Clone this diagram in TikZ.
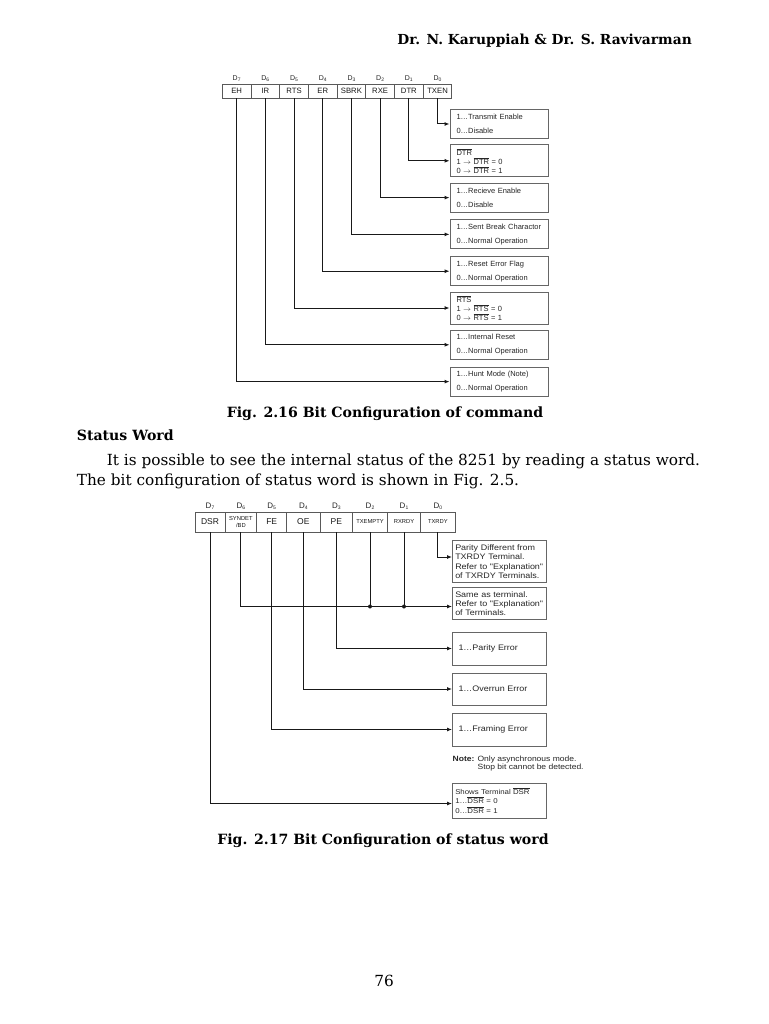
\documentclass[tikz,border=0pt]{standalone}
\usepackage{fontspec}
\setmainfont{DejaVu Serif}
\newfontfamily\dfont{Liberation Sans}
\newfontfamily\wfont[FakeStretch=1.12]{Liberation Sans}
\usetikzlibrary{arrows.meta}
\newcommand{\ovl}[1]{$\overline{\hbox{#1}}$}
\newcommand{\dsub}[1]{D\raisebox{-1.4pt}{\fontsize{5}{5}\selectfont #1}}
\begin{document}
\begin{tikzpicture}[x=1pt,y=-1pt]
\tikzstyle{pagetext} = [inner sep=0,text=black];
\tikzstyle{headtext} = [pagetext,font=\bfseries\fontsize{13.8}{16}\selectfont];
\tikzstyle{figcap} = [pagetext,font=\bfseries\fontsize{14.1}{16}\selectfont];
\tikzstyle{bodytext} = [pagetext,font=\fontsize{15.3}{18}\selectfont];
\tikzstyle{bit} = [inner sep=0,anchor=base,text=black!85,font=\dfont\fontsize{7}{7}\selectfont];
\tikzstyle{sbit} = [bit,font=\dfont\fontsize{8}{8}\selectfont];
\tikzstyle{cell} = [draw=black!65,line width=0.9,inner sep=0,text=black!90,font=\dfont\fontsize{7.7}{8}\selectfont];
\tikzstyle{scell} = [cell,font=\dfont\fontsize{8.5}{9}\selectfont];
\tikzstyle{smallcell} = [cell,font=\dfont\fontsize{5.8}{6.3}\selectfont];
\tikzstyle{box} = [draw=black!60,line width=0.9,minimum width=98,minimum height=29,text width=85,inner xsep=6.5,align=left,text=black!85,font=\dfont\fontsize{7.5}{14}\selectfont];
\tikzstyle{box3} = [box,font=\dfont\fontsize{7.5}{9}\selectfont];
\tikzstyle{sbox} = [box,minimum width=93.5,text width=88,inner xsep=2.75,font=\wfont\fontsize{8}{9.3}\selectfont];
\tikzstyle{sbox1} = [sbox,inner xsep=6,text width=81.5,font=\wfont\fontsize{8}{9}\selectfont];
\tikzstyle{wire} = [line width=1,black!90];
\tikzstyle{arr} = [wire,-{Latex[length=5,width=4]}];
\useasboundingbox (0,0) rectangle (768,1024);
\fill [white] (0,0) rectangle (768,1024);

% page text
\node [headtext,anchor=base east] (hdr) at (692,45) {Dr. N. Karuppiah \& Dr. S. Ravivarman};
\node [figcap,anchor=base] (cap1) at (385,417) {Fig. 2.16 Bit Configuration of command};
\node [figcap,anchor=base west] (sec) at (76.7,440.7) {Status Word};
\node [bodytext,anchor=base west] (par1) at (106.7,465) {It is possible to see the internal status of the 8251 by reading a status word.};
\node [bodytext,anchor=base west] (par2) at (76.7,485) {The bit configuration of status word is shown in Fig. 2.5.};
\node [figcap,anchor=base] (cap2) at (383,844) {Fig. 2.17 Bit Configuration of status word};
\node [bodytext,anchor=base] (pgno) at (384,986) {76};

% command word
\node [cell,minimum width=28.7,minimum height=14] (cmd7) at (236.65,91) {EH};
\node [cell,minimum width=28.7,minimum height=14] (cmd6) at (265.35,91) {IR};
\node [cell,minimum width=28.7,minimum height=14] (cmd5) at (294.05,91) {RTS};
\node [cell,minimum width=28.7,minimum height=14] (cmd4) at (322.75,91) {ER};
\node [cell,minimum width=28.7,minimum height=14] (cmd3) at (351.45,91) {SBRK};
\node [cell,minimum width=28.7,minimum height=14] (cmd2) at (380.15,91) {RXE};
\node [cell,minimum width=28.7,minimum height=14] (cmd1) at (408.85,91) {DTR};
\node [cell,minimum width=28.7,minimum height=14] (cmd0) at (437.55,91) {TXEN};
\node [bit] (cd7) at (236.65,80.5) {\dsub{7}};
\node [bit] (cd6) at (265.35,80.5) {\dsub{6}};
\node [bit] (cd5) at (294.05,80.5) {\dsub{5}};
\node [bit] (cd4) at (322.75,80.5) {\dsub{4}};
\node [bit] (cd3) at (351.45,80.5) {\dsub{3}};
\node [bit] (cd2) at (380.15,80.5) {\dsub{2}};
\node [bit] (cd1) at (408.85,80.5) {\dsub{1}};
\node [bit] (cd0) at (437.55,80.5) {\dsub{0}};

\node [box] (cb1) at (499,124) {1…Transmit Enable\\0…Disable};
\node [box3] (cb2) at (499,160.8) {\ovl{DTR}\\1 $\rightarrow$ \ovl{DTR} = 0\\0 $\rightarrow$ \ovl{DTR} = 1};
\node [box] (cb3) at (499,197.6) {1…Recieve Enable\\0…Disable};
\node [box] (cb4) at (499,234.4) {1…Sent Break Charactor\\0…Normal Operation};
\node [box] (cb5) at (499,271.2) {1…Reset Error Flag\\0…Normal Operation};
\node [box3] (cb6) at (499,308) {\ovl{RTS}\\1 $\rightarrow$ \ovl{RTS} = 0\\0 $\rightarrow$ \ovl{RTS} = 1};
\node [box] (cb7) at (499,344.8) {1…Internal Reset\\0…Normal Operation};
\node [box] (cb8) at (499,381.6) {1…Hunt Mode (Note)\\0…Normal Operation};
\draw [arr] (cmd0) |- (cb1);
\draw [arr] (cmd1) |- (cb2);
\draw [arr] (cmd2) |- (cb3);
\draw [arr] (cmd3) |- (cb4);
\draw [arr] (cmd4) |- (cb5);
\draw [arr] (cmd5) |- (cb6);
\draw [arr] (cmd6) |- (cb7);
\draw [arr] (cmd7) |- (cb8);

% status word
\node [scell,minimum width=30,minimum height=20] (st7) at (210,522) {DSR};
\node [smallcell,minimum width=31.7,minimum height=20,align=center] (st6) at (240.85,522) {SYNDET\\/BD};
\node [scell,minimum width=30,minimum height=20] (st5) at (271.7,522) {FE};
\node [scell,minimum width=33.3,minimum height=20] (st4) at (303.35,522) {OE};
\node [scell,minimum width=32.7,minimum height=20] (st3) at (336.35,522) {PE};
\node [smallcell,minimum width=34.6,minimum height=20] (st2) at (370,522) {TXEMPTY};
\node [smallcell,minimum width=33.4,minimum height=20] (st1) at (404,522) {RXRDY};
\node [smallcell,minimum width=34.3,minimum height=20] (st0) at (437.85,522) {TXRDY};
\node [sbit] (sd7) at (210,508.5) {\dsub{7}};
\node [sbit] (sd6) at (240.85,508.5) {\dsub{6}};
\node [sbit] (sd5) at (271.7,508.5) {\dsub{5}};
\node [sbit] (sd4) at (303.35,508.5) {\dsub{4}};
\node [sbit] (sd3) at (336.35,508.5) {\dsub{3}};
\node [sbit] (sd2) at (370,508.5) {\dsub{2}};
\node [sbit] (sd1) at (404,508.5) {\dsub{1}};
\node [sbit] (sd0) at (437.85,508.5) {\dsub{0}};

\node [sbox,minimum height=42.5] (sb1) at (499.25,561.5) {Parity Different from\\TXRDY Terminal.\\Refer to "Explanation"\\of TXRDY Terminals.};
\node [sbox,minimum height=30] (sb2) at (499.25,603.5) {Same as terminal.\\Refer to "Explanation"\\of Terminals.};
\node [sbox1,minimum height=33] (sb3) at (499.25,648.5) {1…Parity Error};
\node [sbox1,minimum height=32] (sb4) at (499.25,689) {1…Overrun Error};
\node [sbox1,minimum height=33] (sb5) at (499.25,729.5) {1…Framing Error};
\node [sbox,minimum height=35,font=\wfont\fontsize{7}{9.6}\selectfont] (sb6) at (499.25,800.5) {Shows Terminal \ovl{DSR}\\1…\ovl{DSR} = 0\\0…\ovl{DSR} = 1};
\node [inner sep=0,anchor=north west,align=left,text=black!85,font=\wfont\fontsize{7.6}{8.2}\selectfont] (note) at (452.5,755.5) {\textbf{Note:} Only asynchronous mode.\\\phantom{\textbf{Note:} }Stop bit cannot be detected.};
\coordinate (bus) at ([yshift=-3]sb2.west);
\draw [arr] (st0) |- ([yshift=4.5]sb1.west);
\draw [arr] (st6) |- (bus);
\draw [wire] (st2) -- (st2 |- bus);
\draw [wire] (st1) -- (st1 |- bus);
\fill [black!90] (st2 |- bus) circle (2);
\fill [black!90] (st1 |- bus) circle (2);
\draw [arr] (st3) |- (sb3);
\draw [arr] (st4) |- (sb4);
\draw [arr] (st5) |- (sb5);
\draw [arr] (st7) |- ([yshift=-3]sb6.west);
\end{tikzpicture}
\end{document}
